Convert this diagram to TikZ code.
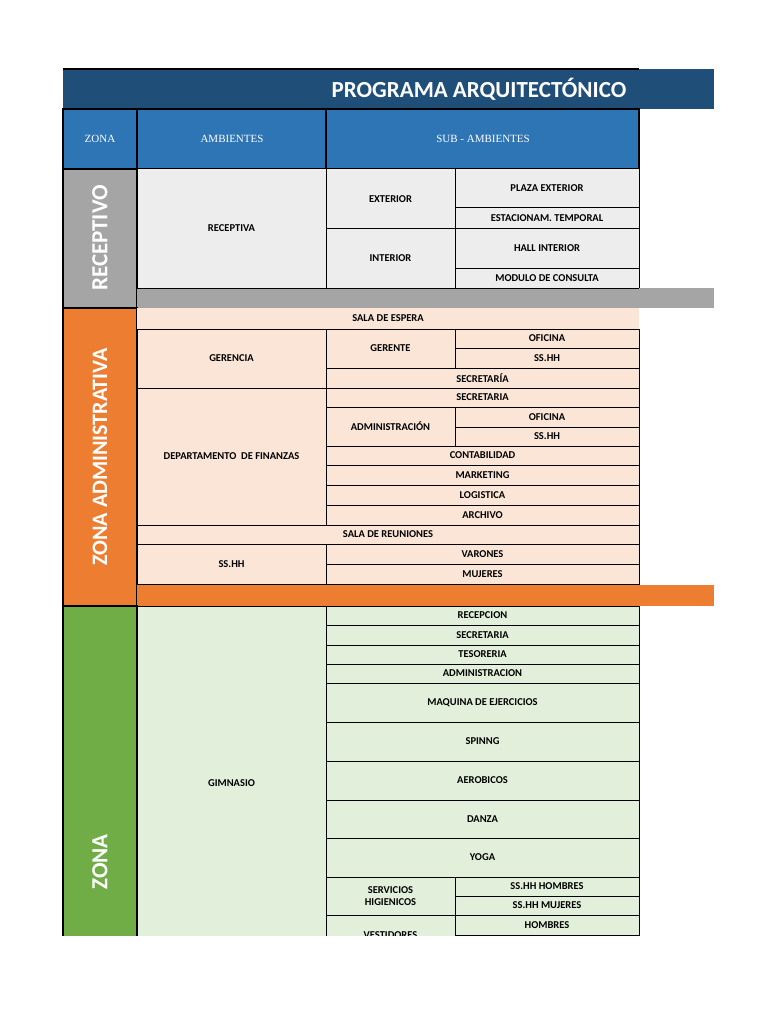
\documentclass[tikz,border=0pt]{standalone}
\usepackage{fontspec}
\setmainfont{Carlito}
\newfontfamily\hdrfont{Liberation Serif}
\definecolor{tblue}{HTML}{1F4E79}
\definecolor{hblue}{HTML}{2E75B6}
\definecolor{zgray}{HTML}{A5A5A5}
\definecolor{lgray}{HTML}{EDEDED}
\definecolor{zorange}{HTML}{ED7D31}
\definecolor{lorange}{HTML}{FBE5D6}
\definecolor{zgreen}{HTML}{70AD47}
\definecolor{lgreen}{HTML}{E2EFDA}
\newcommand{\cellbox}[7]{% name x1 y1 x2 y2 fill text
  \path[draw=black,line width=1pt,fill=#6] (#2,#3) rectangle (#4,#5);
  \node[celltext] (#1) at ({(#2+#4)/2},{(#3+#5)/2}) {#7};}
\begin{document}
\begin{tikzpicture}[x=1pt,y=-1pt,
  celltext/.style={font=\bfseries\fontsize{10.5}{12}\selectfont,align=center,inner sep=0pt,text=black},
  hdr/.style={font=\hdrfont\fontsize{11}{13}\selectfont,text=white,inner sep=0pt},
  zonetext/.style={font=\bfseries\fontsize{23}{26}\selectfont,text=white,rotate=90,inner sep=0pt}]
\useasboundingbox[fill=white] (0,0) rectangle (768,1024);
% title
\path[fill=tblue] (63,69) rectangle (714,109);
\draw[line width=1.5pt] (63,69) -- (639,69);
\node[font=\bfseries\fontsize{23}{26}\selectfont,text=white,inner sep=0pt] (title) at (479,89) {PROGRAMA ARQUITECTÓNICO};
% header
\path[draw=black,line width=1.5pt,fill=hblue] (63,109) rectangle (137,169);
\path[draw=black,line width=1.5pt,fill=hblue] (137,109) rectangle (326,169);
\path[draw=black,line width=1.5pt,fill=hblue] (326,109) rectangle (639,169);
\node[hdr] (hz) at (100,139) {ZONA};
\node[hdr] (ha) at (232,139) {AMBIENTES};
\node[hdr] (hs) at (483,139) {SUB - AMBIENTES};
% receptivo
\path[fill=zgray,draw=black,line width=1.5pt] (63,169) rectangle (137,308);
\node[zonetext] (zr) at (100,238) {RECEPTIVO};
\cellbox{rc}{137}{169}{326}{288}{lgray}{RECEPTIVA}
\cellbox{ext}{326}{169}{455}{229}{lgray}{EXTERIOR}
\cellbox{int}{326}{229}{455}{288}{lgray}{INTERIOR}
\cellbox{plz}{455}{169}{639}{208}{lgray}{PLAZA EXTERIOR}
\cellbox{est}{455}{208}{639}{229}{lgray}{ESTACIONAM. TEMPORAL}
\cellbox{hal}{455}{229}{639}{268}{lgray}{HALL INTERIOR}
\cellbox{mod}{455}{268}{639}{288}{lgray}{MODULO DE CONSULTA}
\path[fill=zgray] (137,288) rectangle (714,308);
\draw[line width=1pt] (137,288) -- (639,288);
% admin
\path[fill=zorange,draw=black,line width=1.5pt] (63,308) rectangle (137,606);
\node[zonetext,font=\bfseries\fontsize{22}{26}\selectfont] (za) at (100,457) {ZONA ADMINISTRATIVA};
\path[fill=lorange] (137,308) rectangle (639,329);
\node[celltext] (se) at (388,318.5) {SALA DE ESPERA};
\cellbox{ger}{137}{329}{326}{388}{lorange}{GERENCIA}
\cellbox{gte}{326}{329}{455}{368}{lorange}{GERENTE}
\cellbox{of1}{455}{329}{639}{348}{lorange}{OFICINA}
\cellbox{ss1}{455}{348}{639}{368}{lorange}{SS.HH}
\cellbox{sc1}{326}{368}{639}{388}{lorange}{SECRETARÍA}
\cellbox{dep}{137}{388}{326}{525}{lorange}{DEPARTAMENTO\ \ DE FINANZAS}
\cellbox{sc2}{326}{388}{639}{407}{lorange}{SECRETARIA}
\cellbox{adm}{326}{407}{455}{446}{lorange}{ADMINISTRACIÓN}
\cellbox{of2}{455}{407}{639}{427}{lorange}{OFICINA}
\cellbox{ss2}{455}{427}{639}{446}{lorange}{SS.HH}
\cellbox{con}{326}{446}{639}{465}{lorange}{CONTABILIDAD}
\cellbox{mkt}{326}{465}{639}{485}{lorange}{MARKETING}
\cellbox{log}{326}{485}{639}{505}{lorange}{LOGISTICA}
\cellbox{arc}{326}{505}{639}{525}{lorange}{ARCHIVO}
\cellbox{sr}{137}{525}{639}{544}{lorange}{SALA DE REUNIONES}
\cellbox{ssh}{137}{544}{326}{584}{lorange}{SS.HH}
\cellbox{var}{326}{544}{639}{564}{lorange}{VARONES}
\cellbox{muj}{326}{564}{639}{584}{lorange}{MUJERES}
\path[fill=zorange] (137,585) rectangle (714,606);
% green
\begin{scope}
\clip (0,0) rectangle (768,935);
\path[fill=zgreen,draw=black,line width=1.5pt] (63,606) rectangle (137,960);
\node[zonetext] (zg) at (100,862) {ZONA};
\cellbox{gim}{137}{606}{326}{960}{lgreen}{GIMNASIO}
\cellbox{rec}{326}{606}{639}{625}{lgreen}{RECEPCION}
\cellbox{sc3}{326}{625}{639}{645}{lgreen}{SECRETARIA}
\cellbox{tes}{326}{645}{639}{664}{lgreen}{TESORERIA}
\cellbox{ad3}{326}{664}{639}{683}{lgreen}{ADMINISTRACION}
\cellbox{maq}{326}{683}{639}{722}{lgreen}{MAQUINA DE EJERCICIOS}
\cellbox{spi}{326}{722}{639}{761}{lgreen}{SPINNG}
\cellbox{aer}{326}{761}{639}{800}{lgreen}{AEROBICOS}
\cellbox{dan}{326}{800}{639}{838}{lgreen}{DANZA}
\cellbox{yog}{326}{838}{639}{877}{lgreen}{YOGA}
\cellbox{shi}{326}{877}{455}{915}{lgreen}{SERVICIOS\\HIGIENICOS}
\cellbox{shh}{455}{877}{639}{896}{lgreen}{SS.HH HOMBRES}
\cellbox{shm}{455}{896}{639}{915}{lgreen}{SS.HH MUJERES}
\cellbox{ves}{326}{915}{455}{955}{lgreen}{VESTIDORES}
\cellbox{hom}{455}{915}{639}{935}{lgreen}{HOMBRES}
\end{scope}
\end{tikzpicture}
\end{document}
